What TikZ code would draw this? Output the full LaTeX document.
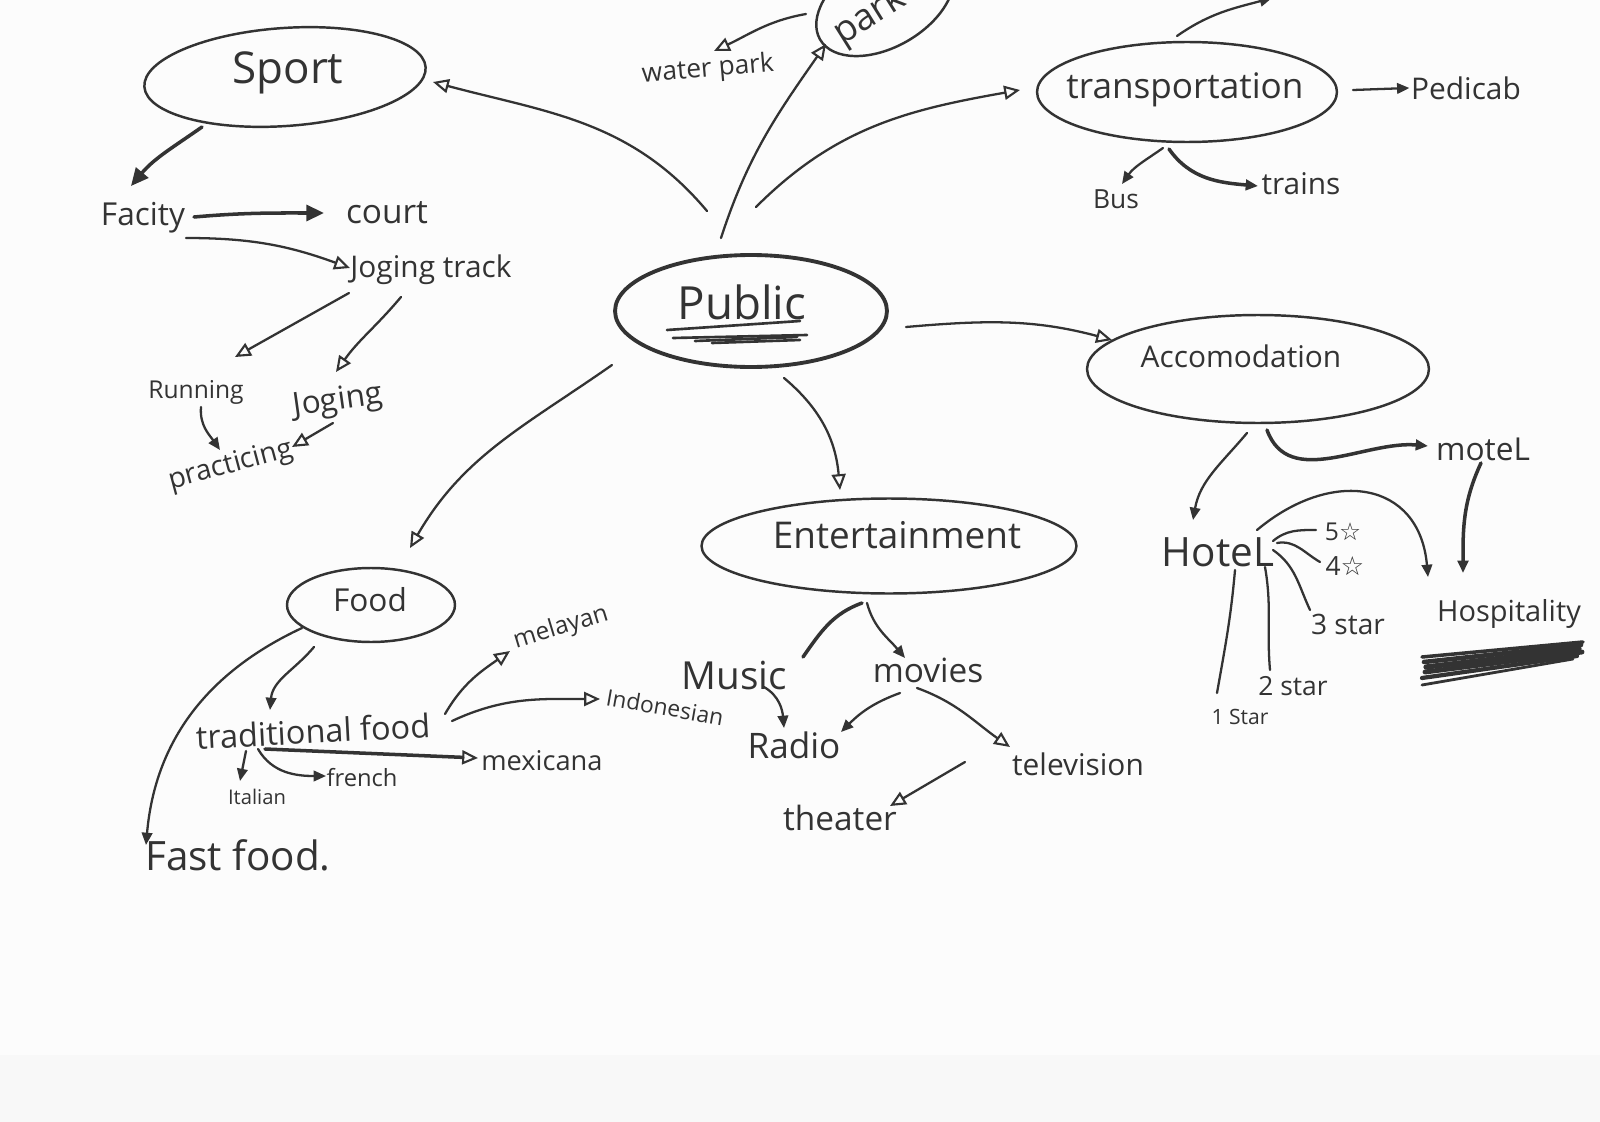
\documentclass[tikz,border=0pt]{standalone}
\usepackage{fontspec}
\setmainfont{Open Sans}
\newfontfamily\symfont{DejaVu Sans}
\usetikzlibrary{shapes.geometric,arrows.meta,calc}
\definecolor{ink}{HTML}{333333}
\definecolor{paper}{HTML}{FCFCFC}
\definecolor{paperb}{HTML}{F8F8F8}
\newcommand\myfs[1]{\fontsize{#1pt}{#1pt}\selectfont}
\begin{document}
\begin{tikzpicture}[x=0.02cm,y=-0.02cm,
  lbl/.style={text=ink, inner sep=1pt, outer sep=0pt},
  oval/.style={draw=ink, line width=1.4pt, ellipse, inner sep=0pt, outer sep=0pt},
  con/.style={draw=ink, line width=1.3pt, line cap=round},
  heavycon/.style={line width=2pt},
  oarr/.style={-{Triangle[open,length=9pt,width=8pt,line width=1.2pt]}},
  farr/.style={-{Triangle[length=7pt,width=6pt]}},
  farrB/.style={-{Triangle[length=10pt,width=9pt]}},
  scrib/.style={draw=ink, line width=1.5pt, line cap=round}]
\fill[paper] (0,0) rectangle (1600,1122);
\fill[paperb] (0,1055) rectangle (1600,1122);
\useasboundingbox (0,0) rectangle (1600,1122);

% ---------- ovals ----------
\node[oval, minimum width=5.64cm, minimum height=1.96cm, rotate=4] (sport) at (285,77) {};
\node[oval, minimum width=3cm, minimum height=1.8cm, rotate=30] (park) at (885,2) {};
\node[oval, minimum width=6cm, minimum height=2cm] (trans) at (1187,92) {};
\node[oval, line width=2.2pt, minimum width=5.44cm, minimum height=2.24cm] (pub) at (751,311) {};
\node[oval, minimum width=6.84cm, minimum height=2.16cm] (acc) at (1258,369) {};
\node[oval, minimum width=7.5cm, minimum height=1.9cm] (ent) at (889,546) {};
\node[oval, minimum width=3.36cm, minimum height=1.48cm] (food) at (371,605) {};

% ---------- oval texts ----------
\node[lbl, font=\myfs{25}] (sportt) at (288,73) {Sport};
\node[lbl, font=\myfs{21}, rotate=32] (parkt) at (870,17) {park};
\node[lbl, font=\myfs{20}] (transt) at (1185,90) {transportation};
\node[lbl, font=\myfs{26}] (pubt) at (742,302) {Public};
\node[lbl, font=\myfs{17}] (acct) at (1241,356) {Accomodation};
\node[lbl, font=\myfs{21}] (entt) at (897,535) {Entertainment};
\node[lbl, font=\myfs{18}] (foodt) at (370,600) {Food};

% underline of Public
\draw[scrib] ($(pubt)+(-75,28)$) -- ($(pubt)+(58,19)$);
\draw[scrib] ($(pubt)+(-69,36)$) -- ($(pubt)+(65,33)$);
\draw[scrib] ($(pubt)+(-47,39)$) -- ($(pubt)+(55,35)$);
\draw[scrib] ($(pubt)+(-30,41)$) -- ($(pubt)+(58,38)$);

% ---------- other texts ----------
\node[lbl, font=\myfs{15}, rotate=5] (wpark) at (708,70) {water park};
\node[lbl, font=\myfs{17}] (pedicab) at (1466,88) {Pedicab};
\node[lbl, font=\myfs{15}] (bus) at (1116,199) {Bus};
\node[lbl, font=\myfs{17}] (trains) at (1301,184) {trains};
\coordinate (transup) at (1272,-2);

\node[lbl, font=\myfs{18}] (facity) at (143,218) {Facity};
\node[lbl, font=\myfs{19}] (court) at (387,213) {court};
\node[lbl, font=\myfs{17}] (jtrack) at (431,270) {Joging track};
\node[lbl, font=\myfs{14}] (running) at (196,392) {Running};
\node[lbl, font=\myfs{18}, rotate=8] (joging) at (338,402) {Joging};
\node[lbl, font=\myfs{16}, rotate=15] (practicing) at (231,466) {practicing};

\node[lbl, font=\myfs{18.5}, rotate=3] (trad) at (313,731) {traditional food};
\node[lbl, font=\myfs{11.5}] (italian) at (257,797) {Italian};
\node[lbl, font=\myfs{13.5}] (french) at (362,778) {french};
\node[lbl, font=\myfs{15.5}] (mexicana) at (542,761) {mexicana};
\node[lbl, font=\myfs{14}, rotate=17] (melayan) at (561,628) {melayan};
\node[lbl, font=\myfs{13}, rotate=-10] (indo) at (665,707) {Indonesian};
\node[lbl, font=\myfs{23}] (fastfood) at (238,855) {Fast food.};

\node[lbl, font=\myfs{22}] (music) at (734,676) {Music};
\node[lbl, font=\myfs{19}] (movies) at (928,670) {movies};
\node[lbl, font=\myfs{20}] (radio) at (794,745) {Radio};
\node[lbl, font=\myfs{17}] (tv) at (1078,764) {television};
\node[lbl, font=\myfs{19}] (theater) at (840,818) {theater};

\node[lbl, font=\myfs{23}] (hotel) at (1218,552) {HoteL};
\node[lbl, font=\myfs{18}] (motel) at (1483,449) {moteL};
\node[lbl, font=\myfs{14}] (s5) at (1343,532) {5{\symfont ☆}};
\node[lbl, font=\myfs{15}] (s4) at (1345,566) {4{\symfont ☆}};
\node[lbl, font=\myfs{16}] (s3) at (1348,624) {3 star};
\node[lbl, font=\myfs{15}] (s2) at (1293,686) {2 star};
\node[lbl, font=\myfs{12}] (s1) at (1240,717) {1 Star};
\node[lbl, font=\myfs{16.5}] (hosp) at (1509,614) {Hospitality};

% scribble under Hospitality
\draw[scrib, line width=2pt] ($(hosp)+(-87,43)$) -- ($(hosp)+(74,28)$);
\draw[scrib, line width=2.6pt] ($(hosp)+(-85,48)$) -- ($(hosp)+(72,31)$);
\draw[scrib, line width=3pt] ($(hosp)+(-83,53)$) -- ($(hosp)+(70,35)$);
\draw[scrib, line width=2.8pt] ($(hosp)+(-84,58)$) -- ($(hosp)+(73,38)$);
\draw[scrib, line width=2.4pt] ($(hosp)+(-87,64)$) -- ($(hosp)+(68,42)$);
\draw[scrib, line width=1.6pt] ($(hosp)+(-87,71)$) -- ($(hosp)+(64,45)$);

% ---------- connectors ----------
% Public hub
\draw[con,oarr] ($(pub)+(-44,-100)$) to[out=130,in=-15] ($(sport)+(148,5)$);
\draw[con,oarr] ($(pub)+(-30,-73)$) to[out=72,in=235] ($(park)+(-59,42)$);
\draw[con,oarr] ($(pub)+(5,-104)$) to[out=45,in=190] ($(trans)+(-167,-2)$);
\draw[con,oarr] ($(pub)+(155,16)$) to[out=5,in=165] ($(acc)+(-146,-29)$);
\draw[con,oarr] ($(pub)+(33,67)$) to[out=-40,in=95] ($(ent)+(-49,-56)$);
\draw[con,oarr] ($(pub)+(-139,54)$) to[out=215,in=60] ($(food)+(39,-57)$);

% park / transportation
\draw[con,oarr] ($(park)+(-79,12)$) to[out=190,in=25] ($(wpark)+(6,-19)$);
\draw[con,farr] ($(trans)+(-10,-56)$) to[out=35,in=195] (transup);
\draw[con,farr] ($(trans)+(166,-2)$) -- (pedicab.west);
\draw[con,farr] ($(trans)+(-24,56)$) to[out=215,in=55] ($(bus)+(6,-15)$);
\draw[con,farr,heavycon] ($(trans)+(-18,57)$) to[out=-55,in=175] ($(trains)+(-43,2)$);

% sport
\draw[con,farrB,heavycon] ($(sport)+(-83,50)$) to[out=215,in=50] ($(facity)+(-12,-32)$);
\draw[con,farrB,heavycon] ($(facity)+(51,-1)$) to[out=5,in=180] ($(court)+(-63,0)$);
\draw[con,oarr] ($(facity)+(43,20)$) to[out=0,in=160] ($(jtrack)+(-81,-2)$);
\draw[con,oarr] ($(jtrack)+(-82,23)$) -- ($(running)+(39,-35)$);
\draw[con,oarr] ($(jtrack)+(-30,27)$) to[out=230,in=55] ($(joging)+(-2,-30)$);
\draw[con,farr] ($(running)+(5,15)$) to[out=-95,in=125] ($(practicing)+(-11,-16)$);
\draw[con,oarr] ($(joging)+(-5,21)$) -- ($(practicing)+(61,-19)$);

% food
\draw[con,farr] ($(food)+(-57,42)$) to[out=230,in=85] ($(trad)+(-43,-21)$);
\draw[con,farr] ($(food)+(-69,23)$) to[out=205,in=85] ($(fastfood)+(-92,-10)$);
\draw[con,farr] ($(trad)+(-67,20)$) -- ($(italian)+(-17,-16)$);
\draw[con,farr] ($(trad)+(-55,18)$) to[out=-60,in=180] ($(french)+(-36,-2)$);
\draw[con,oarr,heavycon] ($(trad)+(-48,18)$) -- ($(mexicana)+(-64,-3)$);
\draw[con,oarr] ($(trad)+(132,-17)$) to[out=60,in=215] ($(melayan)+(-51,23)$);
\draw[con,oarr] ($(trad)+(139,-10)$) to[out=25,in=180] ($(indo)+(-65,-8)$);

% entertainment
\draw[con,heavycon] ($(ent)+(-27,57)$) to[out=200,in=55] ($(music)+(69,-19)$);
\draw[con,farr] ($(ent)+(-22,57)$) to[out=-75,in=130] ($(movies)+(-23,-12)$);
\draw[con,farr] ($(music)+(30,11)$) to[out=-30,in=95] ($(radio)+(-10,-17)$);
\draw[con,farr] ($(movies)+(-28,23)$) to[out=200,in=45] ($(radio)+(47,-13)$);
\draw[con,oarr] ($(movies)+(-11,18)$) to[out=-20,in=145] ($(tv)+(-68,-17)$);
\draw[con,oarr] ($(tv)+(-113,-2)$) -- ($(theater)+(50,-12)$);

% accomodation
\draw[con,farr] ($(acc)+(-11,64)$) to[out=230,in=80] ($(hotel)+(-25,-32)$);
\draw[con,farr,heavycon] ($(acc)+(9,61)$) to[out=-70,in=175] ($(motel)+(-55,-3)$);
\draw[con,farr,heavycon] ($(motel)+(-2,14)$) to[out=245,in=90] ($(hosp)+(-46,-41)$);
\draw[con,farr] ($(hotel)+(39,-22)$) to[out=40,in=95,looseness=1.4] ($(hosp)+(-81,-37)$);
\draw[con] ($(hotel)+(55,-11)$) to[out=40,in=180] ($(s5)+(-27,-2)$);
\draw[con] ($(hotel)+(59,-9)$) to[out=10,in=150] ($(s4)+(-25,-4)$);
\draw[con] ($(hotel)+(55,-2)$) to[out=-35,in=115] ($(s3)+(-38,-14)$);
\draw[con] ($(hotel)+(47,15)$) to[out=-80,in=95] ($(s2)+(-23,-16)$);
\draw[con] ($(hotel)+(17,18)$) to[out=-95,in=80] ($(s1)+(-23,-24)$);
\end{tikzpicture}
\end{document}
